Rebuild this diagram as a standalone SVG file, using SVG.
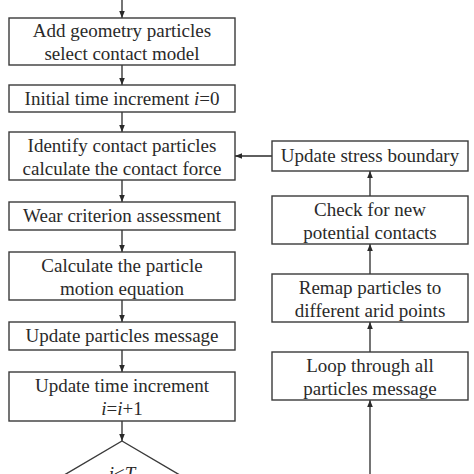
<svg xmlns="http://www.w3.org/2000/svg" width="474" height="474" viewBox="0 0 474 474">
<style>
.b{fill:#fff;stroke:#3a3a3a;stroke-width:1.4}
.t{font-family:"Liberation Serif","Times New Roman",serif;font-size:19px;fill:#2a2a2a;text-anchor:middle}
.c{stroke:#2a2a2a;stroke-width:1.3;fill:none;marker-end:url(#ah)}
</style>
<defs>
<marker id="ah" viewBox="0 0 10 10" refX="10" refY="5" markerWidth="7" markerHeight="7" markerUnits="userSpaceOnUse" orient="auto">
<path d="M0,1 L10,5 L0,9 z" fill="#2a2a2a"/>
</marker>
</defs>
<rect width="474" height="474" fill="#fff"/>
<g id="connectors">
<line class="c" x1="122" y1="0" x2="122" y2="18"/>
<line class="c" x1="122" y1="65" x2="122" y2="85"/>
<line class="c" x1="122" y1="112" x2="122" y2="132"/>
<line class="c" x1="122" y1="180" x2="122" y2="202"/>
<line class="c" x1="122" y1="230" x2="122" y2="252"/>
<line class="c" x1="122" y1="300" x2="122" y2="322"/>
<line class="c" x1="122" y1="350" x2="122" y2="372"/>
<line class="c" x1="122" y1="421" x2="122" y2="441"/>
<line class="c" x1="370" y1="474" x2="370" y2="400"/>
<line class="c" x1="370" y1="352" x2="370" y2="322"/>
<line class="c" x1="370" y1="274" x2="370" y2="244"/>
<line class="c" x1="370" y1="196" x2="370" y2="171"/>
<line class="c" x1="272" y1="156" x2="235" y2="156"/>
</g>
<g id="n1"><rect class="b" x="9" y="18" width="226" height="47"/>
<text class="t" x="122" y="37">Add geometry particles</text><text class="t" x="122" y="60">select contact model</text></g>
<g id="n2"><rect class="b" x="9" y="85" width="226" height="27"/>
<text class="t" x="122" y="105">Initial time increment <tspan font-style="italic">i</tspan>=0</text></g>
<g id="n3"><rect class="b" x="9" y="132" width="226" height="48"/>
<text class="t" x="122" y="152">Identify contact particles</text><text class="t" x="122" y="175">calculate the contact force</text></g>
<g id="n4"><rect class="b" x="9" y="202" width="226" height="28"/>
<text class="t" x="122" y="222">Wear criterion assessment</text></g>
<g id="n5"><rect class="b" x="9" y="252" width="226" height="48"/>
<text class="t" x="122" y="272">Calculate the particle</text><text class="t" x="122" y="295">motion equation</text></g>
<g id="n6"><rect class="b" x="9" y="322" width="226" height="28"/>
<text class="t" x="122" y="342">Update particles message</text></g>
<g id="n7"><rect class="b" x="9" y="372" width="226" height="49"/>
<text class="t" x="122" y="392">Update time increment</text><text class="t" x="122" y="415"><tspan font-style="italic">i</tspan>=<tspan font-style="italic">i</tspan>+1</text></g>
<g id="n8"><polygon class="b" points="122,441 190,481 122,521 54,481"/>
<text class="t" x="122" y="480"><tspan font-style="italic">i</tspan>&lt;<tspan font-style="italic">T</tspan></text></g>
<g id="r1"><rect class="b" x="272" y="141" width="196" height="30"/>
<text class="t" x="370" y="162">Update stress boundary</text></g>
<g id="r2"><rect class="b" x="272" y="196" width="196" height="48"/>
<text class="t" x="370" y="216">Check for new</text><text class="t" x="370" y="239">potential contacts</text></g>
<g id="r3"><rect class="b" x="272" y="274" width="196" height="48"/>
<text class="t" x="370" y="294">Remap particles to</text><text class="t" x="370" y="317">different arid points</text></g>
<g id="r4"><rect class="b" x="272" y="352" width="196" height="48"/>
<text class="t" x="370" y="372">Loop through all</text><text class="t" x="370" y="395">particles message</text></g>
</svg>
